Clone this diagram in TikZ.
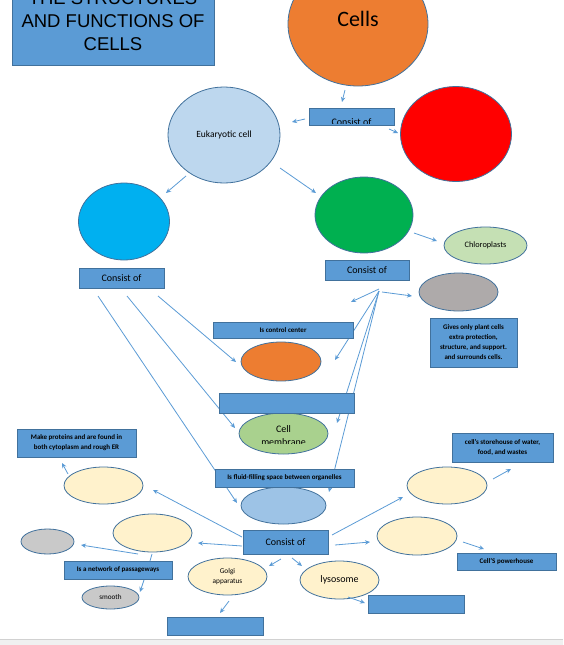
\documentclass[tikz,border=0pt]{standalone}
\usepackage{fontspec}
\setmainfont{Carlito}
\newfontfamily\arialf{Liberation Sans}
\usetikzlibrary{shapes.geometric,arrows.meta}
\pgfdeclarelayer{background}
\pgfsetlayers{background,main}
\definecolor{boxblue}{HTML}{5B9BD5}
\definecolor{edgeblue}{HTML}{41719C}
\definecolor{cellorange}{HTML}{ED7D31}
\definecolor{eukblue}{HTML}{BDD7EE}
\definecolor{cyan1}{HTML}{00B0F0}
\definecolor{green1}{HTML}{00B050}
\definecolor{chlorog}{HTML}{C5E0B4}
\definecolor{wallgray}{HTML}{AEAAAA}
\definecolor{memgreen}{HTML}{A9D18E}
\definecolor{cytoblue}{HTML}{9DC3E6}
\definecolor{cream}{HTML}{FFF2CC}
\definecolor{lgray}{HTML}{C9C9C9}
\begin{document}
\begin{tikzpicture}[x=1pt,y=-1pt,
  box/.style={draw=edgeblue, fill=boxblue, line width=0.8pt, rectangle, inner sep=0pt, align=center},
  oval/.style={draw=edgeblue, line width=0.8pt, ellipse, inner sep=0pt, align=center},
  arr/.style={draw=boxblue, line width=0.8pt, -{Stealth[length=5pt,width=4.5pt]}},
  ln/.style={draw=boxblue, line width=0.8pt},
  small/.style={font=\fontsize{7}{10}\selectfont\bfseries},
  midtext/.style={font=\fontsize{10}{12.5}\selectfont}]
\useasboundingbox (0,0) rectangle (563,645);
% bottom band
\fill[black!6] (0,639) rectangle (563,645);
\draw[black!18, line width=0.8pt] (0,639) -- (563,639);

% title
\node[box, minimum width=202, minimum height=75, anchor=north west] (title) at (12,-10) {};
\node[font=\arialf\fontsize{18.5}{23}\selectfont, align=center, anchor=base] (titletext) at (113,50)
  {THE STRUCTURES\\AND FUNCTIONS OF\\CELLS};

% ellipses
\node[oval, fill=cellorange, minimum width=140, minimum height=124] (cells) at (358,24) {};
\node[font=\fontsize{22}{26}\selectfont, anchor=base] (cellstext) at (358,27) {Cells};
\node[oval, fill=eukblue, minimum width=112, minimum height=96, font=\fontsize{9.5}{12}\selectfont] (euk) at (224,135) {\raisebox{2pt}{Eukaryotic cell}};
\node[oval, fill=red, minimum width=111, minimum height=95] (redcell) at (456,134) {};
\node[oval, fill=cyan1, minimum width=91, minimum height=77] (bluecell) at (124,221.5) {};
\node[oval, fill=green1, minimum width=98, minimum height=76] (greencell) at (364,215) {};
\node[oval, fill=chlorog, minimum width=83, minimum height=37, font=\fontsize{8.3}{10}\selectfont] (chloro) at (485.5,245.5) {\raisebox{2pt}{Chloroplasts}};
\node[oval, fill=wallgray, minimum width=79, minimum height=38] (wall) at (458.5,292) {};
\node[oval, fill=cellorange, minimum width=80, minimum height=39] (nucleus) at (281,361.5) {};
\node[oval, fill=memgreen, minimum width=89, minimum height=41] (membrane) at (283.5,433.5) {};
\node[oval, fill=cytoblue, minimum width=85, minimum height=37] (cyto) at (283.5,505.5) {};
\node[oval, fill=cream, minimum width=79, minimum height=37] (ribo) at (103.5,485.5) {};
\node[oval, fill=cream, minimum width=79, minimum height=38] (er) at (152.5,533) {};
\node[oval, fill=lgray, minimum width=53, minimum height=25] (rough) at (47.5,541.5) {};
\node[oval, fill=lgray, minimum width=57, minimum height=23, font=\fontsize{7.2}{9}\selectfont] (smooth) at (110.5,597.5) {smooth};
\node[oval, fill=cream, minimum width=79, minimum height=37, font=\fontsize{7.3}{10}\selectfont] (golgi) at (227.5,576.5) {Golgi\\apparatus};
\node[oval, fill=cream, minimum width=79, minimum height=38, font=\fontsize{10}{12}\selectfont] (lyso) at (339.5,580) {\raisebox{1.5pt}{lysosome}};
\node[oval, fill=cream, minimum width=80, minimum height=38] (mito) at (417,536) {};
\node[oval, fill=cream, minimum width=80, minimum height=37] (vac) at (447,485.5) {};

% membrane text, clipped
\begin{scope}
\clip (230,410) rectangle (340,443);
\node[font=\fontsize{10}{13}\selectfont, align=center, anchor=base] (memtext) at (283.5,445) {Cell\\membrane};
\end{scope}

% boxes
\node[box, minimum width=85, minimum height=17] (topcons) at (351.5,116.5) {};
\begin{scope}
\clip (309,108) rectangle (394,123);
\node[midtext, anchor=base] (topconstext) at (351.5,125.5) {Consist of};
\end{scope}
\node[box, minimum width=85, minimum height=20, midtext] (lcons) at (121.5,278) {Consist of};
\node[box, minimum width=84, minimum height=20, midtext] (gcons) at (367,270) {Consist of};
\node[box, minimum width=85, minimum height=24, midtext] (bcons) at (285.5,542) {Consist of};
\node[box, minimum width=140, minimum height=16, small] (ctrl) at (283,330) {Is control center};
\node[box, minimum width=135, minimum height=20] (blank1) at (286.5,403) {};
\node[box, minimum width=139, minimum height=18, small] (fluid) at (284.5,478) {Is fluid-filling space between organelles};
\node[box, minimum width=87, minimum height=49, small] (gives) at (473.5,342.5)
  {Gives only plant cells\\extra protection,\\structure, and support.\\and surrounds cells.};
\node[box, minimum width=119, minimum height=28, small] (make) at (76.5,443)
  {Make proteins and are found in\\both cytoplasm and rough ER};
\node[box, minimum width=108, minimum height=18, small] (network) at (118,570) {Is a network of passageways};
\node[box, minimum width=96, minimum height=18] (blank2) at (215,626) {};
\node[box, minimum width=96, minimum height=18] (blank3) at (416,604) {};
\node[box, minimum width=101, minimum height=29, small] (store) at (502.5,447.5)
  {cell's storehouse of water,\\food, and wastes};
\node[box, minimum width=99, minimum height=17, small] (power) at (506.5,561.5) {\raisebox{-2.5pt}{Cell'S powerhouse}};

% connector end points
\path (345,90) coordinate (c1a) (342,102) coordinate (c1b)
      (305,119) coordinate (c2a) (292,122) coordinate (c2b)
      (389,129) coordinate (c3a) (398,133) coordinate (c3b)
      (186,176) coordinate (c4a) (166,193) coordinate (c4b)
      (280,168) coordinate (c5a) (316,193) coordinate (c5b)
      (414,233) coordinate (c6a) (437,241) coordinate (c6b)
      (382,292) coordinate (c7a) (412,296) coordinate (c7b)
      (379,289) coordinate (c8a) (351,302) coordinate (c8b)
      (379,291) coordinate (gfan)
      (335,360) coordinate (c9b)
      (337,423) coordinate (c10b)
      (329,492) coordinate (c11b)
      (158,296) coordinate (c12a) (236,362) coordinate (c12b)
      (127,296) coordinate (c13a) (235,428) coordinate (c13b)
      (98,296) coordinate (c14a) (237,503) coordinate (c14b)
      (242,537) coordinate (c15a) (153,490) coordinate (c15b)
      (242,546) coordinate (c16a) (198,543) coordinate (c16b)
      (281,559) coordinate (c17a) (269,566) coordinate (c17b)
      (292,558) coordinate (c18a) (302,566) coordinate (c18b)
      (335,545) coordinate (c19a) (370,542) coordinate (c19b)
      (332,535) coordinate (c20a) (403,497) coordinate (c20b)
      (68,474) coordinate (c21a) (62,463) coordinate (c21b)
      (138,554) coordinate (c22a) (81,545) coordinate (c22b)
      (152,554) coordinate (c23a) (150,561) coordinate (c23b)
      (144,580) coordinate (c24a) (140,592) coordinate (c24b)
      (229,601) coordinate (c25a) (220,613) coordinate (c25b)
      (348,597) coordinate (c26a) (365,603) coordinate (c26b)
      (463,542) coordinate (c27a) (484,549) coordinate (c27b)
      (493,479) coordinate (c28a) (511,469) coordinate (c28b);

% long connectors passing behind boxes
\begin{pgfonlayer}{background}
\draw[arr] (gfan) -- (c9b);
\draw[arr] (gfan) -- (c10b);
\draw[arr] (gfan) -- (c11b);
\draw[arr] (c12a) -- (c12b);
\draw[arr] (c13a) -- (c13b);
\draw[arr] (c14a) -- (c14b);
\end{pgfonlayer}

\draw[arr] (c1a) -- (c1b);
\draw[arr] (c2a) -- (c2b);
\draw[arr] (c3a) -- (c3b);
\draw[arr] (c4a) -- (c4b);
\draw[arr] (c5a) -- (c5b);
\draw[arr] (c6a) -- (c6b);
\draw[arr] (c7a) -- (c7b);
\draw[arr] (c8a) -- (c8b);
\draw[arr] (c15a) -- (c15b);
\draw[arr] (c16a) -- (c16b);
\draw[arr] (c17a) -- (c17b);
\draw[arr] (c18a) -- (c18b);
\draw[arr] (c19a) -- (c19b);
\draw[arr] (c20a) -- (c20b);
\draw[arr] (c21a) -- (c21b);
\draw[arr] (c22a) -- (c22b);
\draw[ln] (c23a) -- (c23b);
\draw[arr] (c24a) -- (c24b);
\draw[arr] (c25a) -- (c25b);
\draw[arr] (c26a) -- (c26b);
\draw[arr] (c27a) -- (c27b);
\draw[arr] (c28a) -- (c28b);
\end{tikzpicture}
\end{document}
